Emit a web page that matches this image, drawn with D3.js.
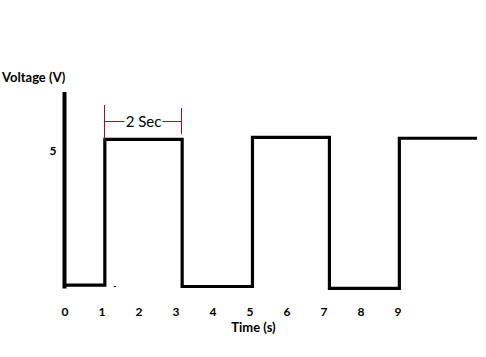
<!DOCTYPE html>
<html>
<head>
<meta charset="utf-8">
<script src="https://cdn.jsdelivr.net/npm/d3@7"></script>
<style>
  html, body { margin: 0; padding: 0; background: #fff; }
  svg { display: block; }
  text { font-family: Lato, "Open Sans", sans-serif; }
</style>
</head>
<body>
<svg id="chart" width="486" height="357"></svg>
<script>
// ---- data ----
const timeTicks = [0, 1, 2, 3, 4, 5, 6, 7, 8, 9];
const voltTicks = [5];
// square-wave edges (time, s) and levels (V)
const edgeTimes = [0, 1.09, 3.18, 5.08, 7.16, 9.05, 11.15];
const levels    = [0.05, 5.43, 0.0, 5.5, -0.07, 5.47];
const annotation = { from: 1.09, to: 3.18, label: "2 Sec" };
const xTitle = "Time (s)";
const yTitle = "Voltage (V)";

// ---- scales ----
const x = d3.scaleLinear().domain([0, 9]).range([64.5, 397.5]);
const y = d3.scaleLinear().domain([0, 5]).range([286.5, 151]);

const svg = d3.select("#chart");
const red = "#9c0f24";

// y axis line (thick)
svg.append("line")
  .attr("x1", x(0)).attr("x2", x(0))
  .attr("y1", y(7.18)).attr("y2", y(-0.07))
  .attr("stroke", "#000").attr("stroke-width", 4);

// signal
const pts = [];
levels.forEach((v, i) => {
  pts.push([edgeTimes[i], v]);
  pts.push([edgeTimes[i + 1], v]);
});
const line = d3.line().x(d => x(d[0])).y(d => y(d[1]));
svg.append("path")
  .attr("d", line(pts))
  .attr("fill", "none")
  .attr("stroke", "#000")
  .attr("stroke-width", 3.2)
  .attr("stroke-linejoin", "miter");

// small stray dash
svg.append("line")
  .attr("x1", x(1.33)).attr("x2", x(1.39))
  .attr("y1", y(0)).attr("y2", y(0))
  .attr("stroke", "#000").attr("stroke-width", 1);

// x axis labels
const xAxis = d3.axisBottom(x).tickValues(timeTicks).tickSize(0).tickPadding(3)
  .tickFormat(d3.format("d"));
const gx = svg.append("g").attr("transform", "translate(0,304)").call(xAxis);
gx.select(".domain").remove();
gx.selectAll("text").attr("font-size", 12).attr("font-weight", "bold")
  .attr("font-family", "Lato, sans-serif").attr("fill", "#000");

// y axis label
const yAxis = d3.axisLeft(y).tickValues(voltTicks).tickSize(0).tickPadding(8)
  .tickFormat(d3.format("d"));
const gy = svg.append("g").attr("transform", `translate(${x(0)},0)`).call(yAxis);
gy.select(".domain").remove();
gy.selectAll("text").attr("font-size", 12).attr("font-weight", "bold")
  .attr("font-family", "Lato, sans-serif").attr("fill", "#000");

// titles
svg.append("text").attr("x", 2).attr("y", 82)
  .attr("font-size", 13).attr("font-weight", "bold").text(yTitle);
svg.append("text").attr("x", 253.5).attr("y", 332).attr("text-anchor", "middle")
  .attr("font-size", 13).attr("font-weight", "bold").text(xTitle);

// annotation bracket
const ax1 = Math.round(x(annotation.from) - 1) + 0.5, ax2 = Math.round(x(annotation.to) - 1) + 0.5;
const ay = 121.5;
svg.append("line").attr("x1", ax1).attr("x2", ax1).attr("y1", 105).attr("y2", 140)
  .attr("stroke", red).attr("stroke-width", 1);
svg.append("line").attr("x1", ax2).attr("x2", ax2).attr("y1", 108).attr("y2", 134)
  .attr("stroke", red).attr("stroke-width", 1);
const lbl = svg.append("text").attr("x", (ax1 + ax2) / 2 + 0.5).attr("y", 126.5)
  .attr("text-anchor", "middle").attr("font-size", 15).attr("fill", "#000")
  .text(annotation.label);
const bb = lbl.node().getBBox();
svg.append("line").attr("x1", ax1).attr("x2", bb.x - 1).attr("y1", ay).attr("y2", ay)
  .attr("stroke", red).attr("stroke-width", 1);
svg.append("line").attr("x1", bb.x + bb.width + 1).attr("x2", ax2).attr("y1", ay).attr("y2", ay)
  .attr("stroke", red).attr("stroke-width", 1);
</script>
</body>
</html>
